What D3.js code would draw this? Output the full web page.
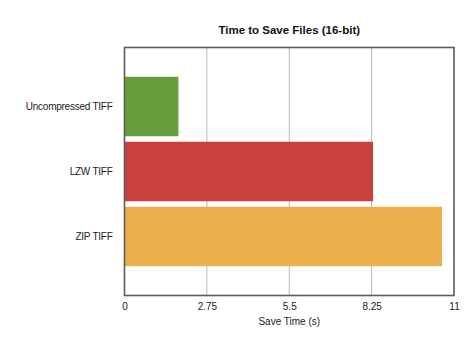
<!DOCTYPE html>
<html>
<head>
<meta charset="utf-8">
<script src="https://cdn.jsdelivr.net/npm/d3@7"></script>
<style>
  html, body { margin: 0; padding: 0; background: #fff; }
  svg { display: block; font-family: "Liberation Sans", Arial, Helvetica, sans-serif; }
</style>
</head>
<body>
<svg id="chart" width="474" height="343"></svg>
<script>
// Save times in seconds for each TIFF compression mode
const formats = ["Uncompressed TIFF", "LZW TIFF", "ZIP TIFF"];
const saveTimes = [1.8, 8.3, 10.6];
const barColors = ["#659e3a", "#c9413e", "#ecb04d"];
const xTicks = [0, 2.75, 5.5, 8.25, 11];
const xTickLabels = ["0", "2.75", "5.5", "8.25", "11"];

const svg = d3.select("#chart");
const plot = { left: 124.5, right: 454, top: 47.5, bottom: 295.5 };

const x = d3.scaleLinear().domain([0, 11]).range([plot.left, plot.right]);
const y = d3.scaleBand()
  .domain(formats)
  .range([plot.top, plot.bottom])
  .paddingInner(0.085)
  .paddingOuter(0.45);

// vertical gridlines
svg.append("g")
  .selectAll("line")
  .data(xTicks.slice(1, -1))
  .join("line")
  .attr("x1", d => x(d)).attr("x2", d => x(d))
  .attr("y1", plot.top).attr("y2", plot.bottom)
  .attr("stroke", "#b8b8b8")
  .attr("stroke-width", 1);

// bars
svg.append("g")
  .selectAll("rect")
  .data(formats)
  .join("rect")
  .attr("x", x(0))
  .attr("y", d => y(d))
  .attr("width", (d, i) => x(saveTimes[i]) - x(0))
  .attr("height", y.bandwidth())
  .attr("fill", (d, i) => barColors[i]);

// plot frame
svg.append("rect")
  .attr("x", plot.left).attr("y", plot.top)
  .attr("width", plot.right - plot.left)
  .attr("height", plot.bottom - plot.top)
  .attr("fill", "none")
  .attr("stroke", "#5a5a5a")
  .attr("stroke-width", 1.6);

// x axis labels
const xAxis = d3.axisBottom(x)
  .tickValues(xTicks)
  .tickFormat((d, i) => xTickLabels[i])
  .tickSize(0)
  .tickPadding(7);
const gx = svg.append("g")
  .attr("transform", `translate(0,${plot.bottom})`)
  .call(xAxis);
gx.select(".domain").remove();
gx.selectAll("text")
  .attr("font-family", "Liberation Sans, Arial, sans-serif")
  .attr("font-size", 10)
  .attr("fill", "#222");

// y axis labels
const yAxis = d3.axisLeft(y).tickSize(0).tickPadding(12);
const gy = svg.append("g")
  .attr("transform", `translate(${plot.left},0)`)
  .call(yAxis);
gy.select(".domain").remove();
gy.selectAll("text")
  .attr("font-family", "Liberation Sans, Arial, sans-serif")
  .attr("font-size", 10)
  .attr("letter-spacing", "-0.25px")
  .attr("fill", "#222");

// titles
svg.append("text")
  .attr("x", (plot.left + plot.right) / 2)
  .attr("y", 34)
  .attr("text-anchor", "middle")
  .attr("font-size", 11.5)
  .attr("font-weight", "bold")
  .attr("fill", "#111")
  .text("Time to Save Files (16-bit)");

svg.append("text")
  .attr("x", (plot.left + plot.right) / 2)
  .attr("y", 325)
  .attr("text-anchor", "middle")
  .attr("font-size", 10)
  .attr("fill", "#222")
  .text("Save Time (s)");
</script>
</body>
</html>
